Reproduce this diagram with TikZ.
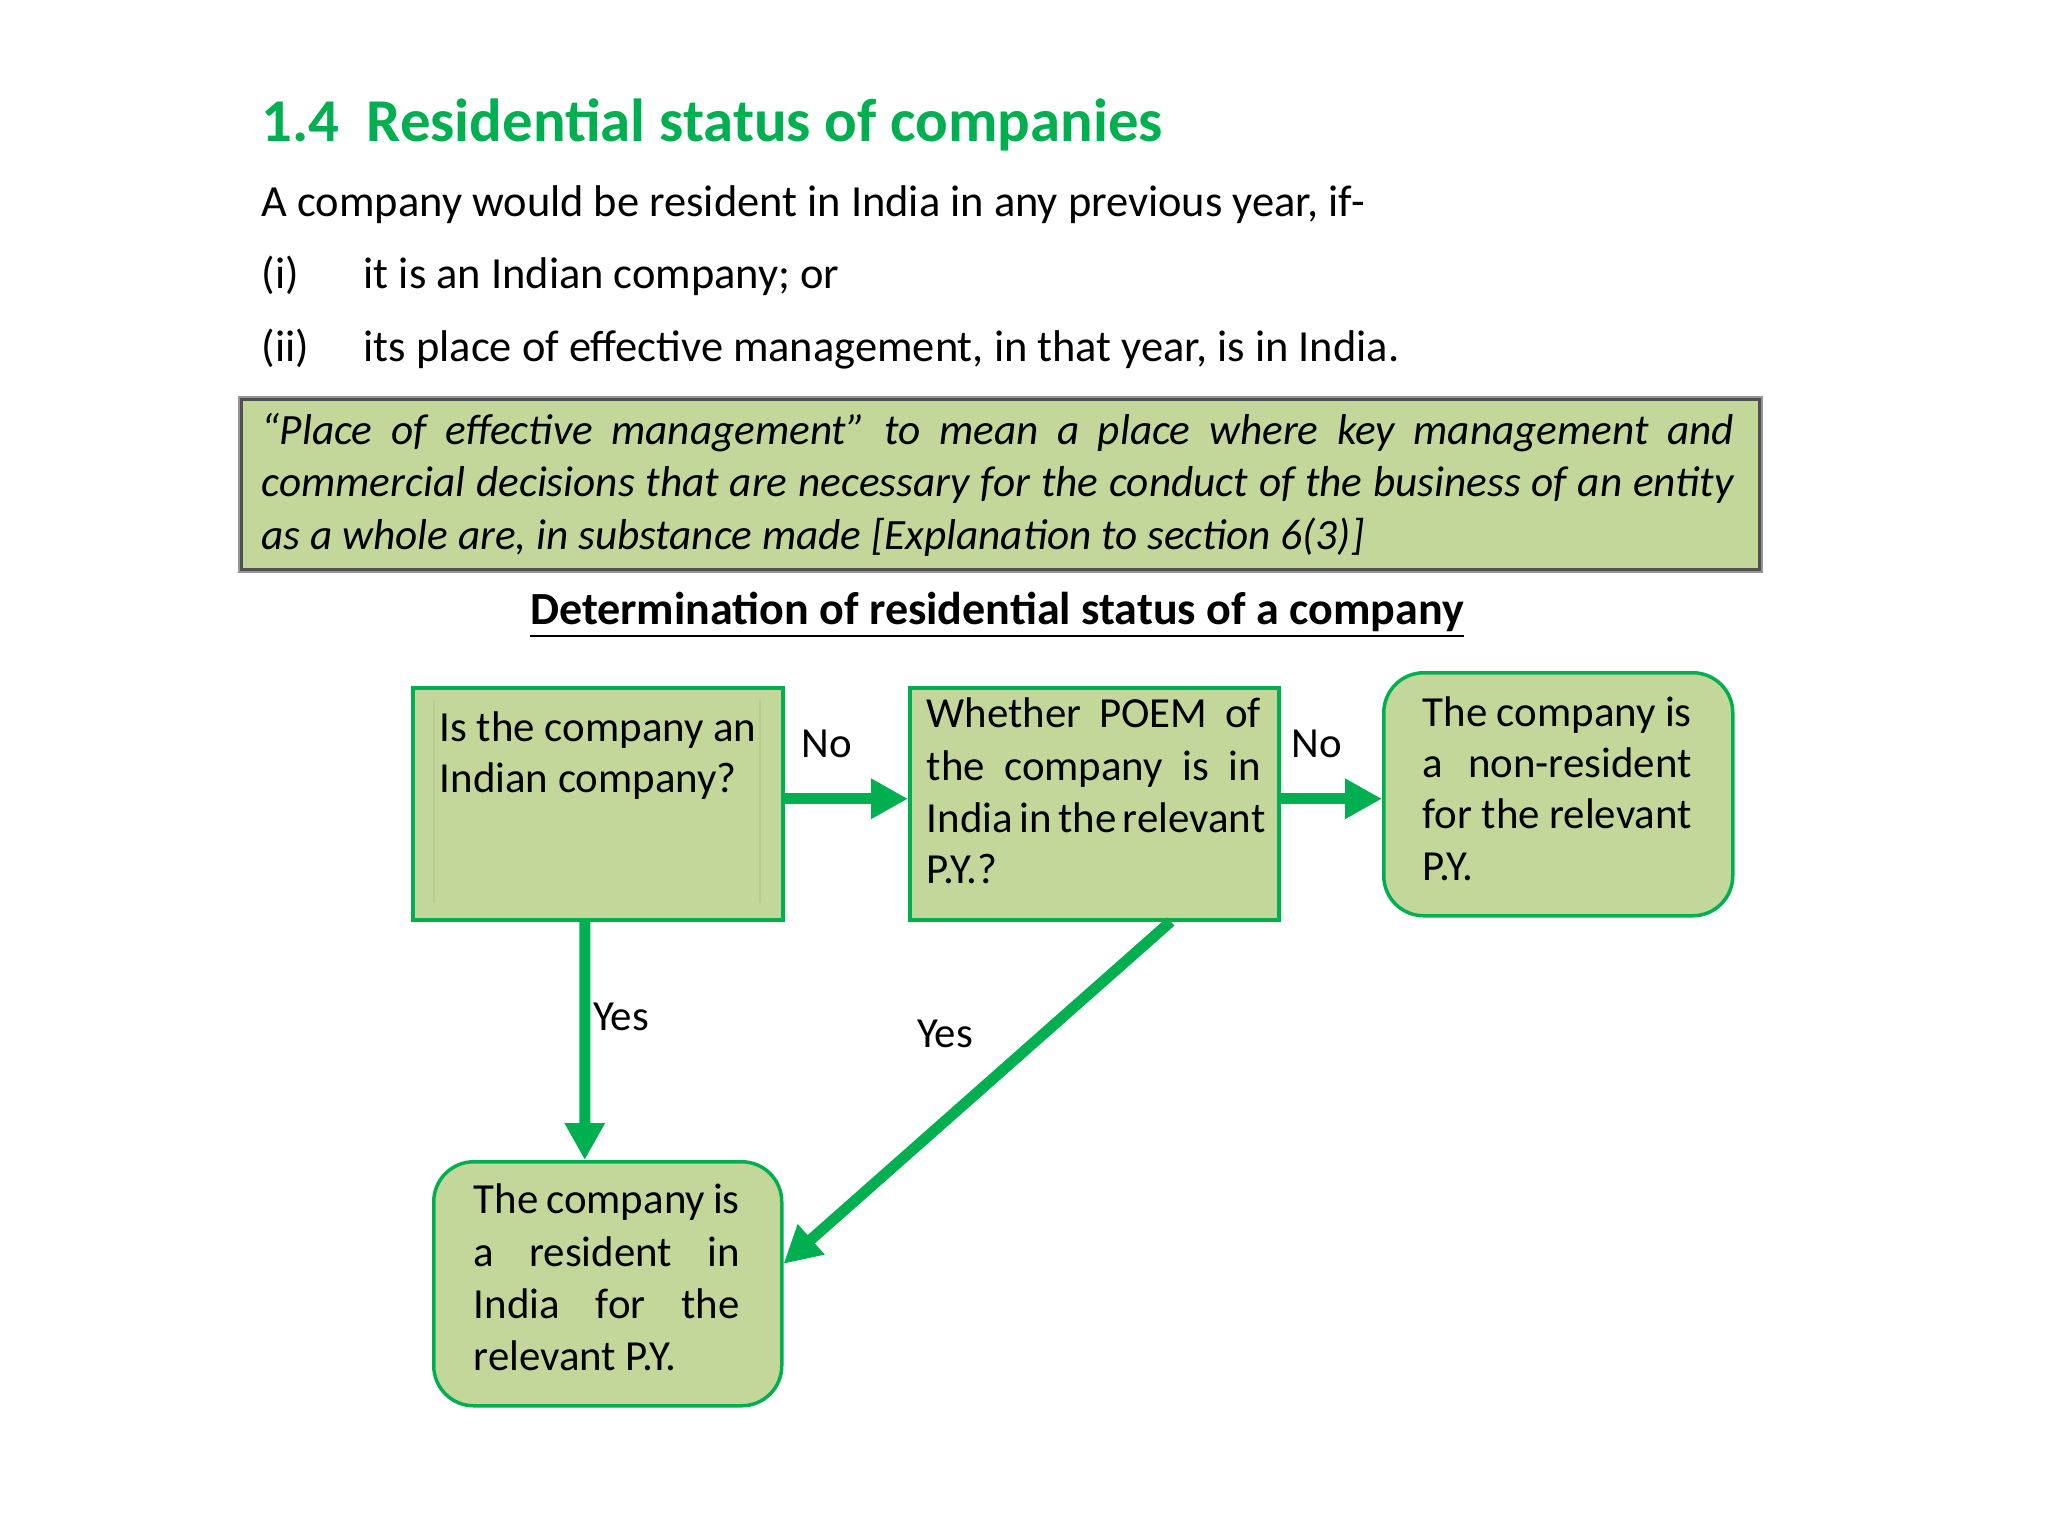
\documentclass[tikz,border=0pt]{standalone}
\usepackage{fontspec}
\setmainfont{Carlito}
\usetikzlibrary{arrows.meta}
\definecolor{titlegreen}{RGB}{0,176,80}
\definecolor{boxfill}{RGB}{196,215,155}
\definecolor{boxgreen}{RGB}{0,176,80}
\definecolor{quoteouter}{RGB}{150,150,150}
\definecolor{quoteinner}{RGB}{80,80,80}
\definecolor{innerframe}{RGB}{184,204,146}
\newcommand\fs{\fontsize{12.2pt}{14.8pt}\selectfont}
\newcommand\fsbody{\fontsize{12.65pt}{15pt}\selectfont}
\newcommand\jl[2]{\hbox to #1{#2}}
\tikzset{
  txt/.style={anchor=base west, inner sep=0pt, font=\fs},
  body/.style={anchor=base west, inner sep=0pt, font=\fsbody},
  lbl/.style={anchor=center, inner sep=0pt, font=\fs},
  sqbox/.style={draw=boxgreen, fill=boxfill, line width=0.35mm, inner sep=0pt, anchor=north west},
  rbox/.style={sqbox, rounded corners=4mm},
  flow/.style={draw=boxgreen, line width=1.1mm, -{Triangle[length=3.7mm,width=3.8mm]}},
}
\begin{document}
\begin{tikzpicture}[x=0.1mm,y=-0.1mm]
\useasboundingbox[fill=white] (0,0) rectangle (2048,1536);

% title and intro
\node[txt, font=\fontsize{17.3pt}{20pt}\selectfont\bfseries, text=titlegreen] (t1) at (261,141) {1.4};
\node[txt, font=\fontsize{17.3pt}{20pt}\selectfont\bfseries, text=titlegreen] (t2) at (366,141) {Residential status of companies};
\node[body] (p1) at (261,216) {A company would be resident in India in any previous year, if-};
\node[body] (p2a) at (261,288) {(i)};
\node[body] (p2b) at (363,288) {it is an Indian company; or};
\node[body] (p3a) at (261,361) {(ii)};
\node[body] (p3b) at (363,361) {its place of effective management, in that year, is in India.};

% quote box
\node[draw=quoteouter, fill=boxfill, line width=0.5mm, inner sep=0pt, anchor=north west,
      minimum width=152mm, minimum height=17.2mm] (q) at (238,396) {};
\draw[quoteinner, line width=0.25mm] ([shift={(0.35mm,-0.35mm)}]q.north west) rectangle ([shift={(-0.35mm,0.35mm)}]q.south east);
\node[txt, font=\fontsize{12.3pt}{14.8pt}\selectfont\itshape] (q1) at (261,444) {\jl{147.2mm}{“Place of effective management” to mean a place where key management and}};
\node[txt, font=\fontsize{12.3pt}{14.8pt}\selectfont\itshape] (q2) at (261,496) {\jl{147.2mm}{commercial decisions that are necessary for the conduct of the business of an entity}};
\node[txt, font=\fontsize{12.3pt}{14.8pt}\selectfont\itshape] (q3) at (261,549) {as a whole are, in substance made [Explanation to section 6(3)]};

% heading
\node[anchor=base, inner sep=0pt, font=\fontsize{13.1pt}{15pt}\selectfont\bfseries] (h) at (997,624) {\underline{Determination of residential status of a company}};

% boxes
\node[sqbox, minimum width=37mm, minimum height=23.2mm] (A) at (411,686) {};
\draw[innerframe, line width=0.12mm] (434,700) -- (434,903) (760,700) -- (760,903);
\node[txt] (a1) at (439,741) {Is the company an};
\node[txt] (a2) at (439,792) {Indian company?};

\node[sqbox, minimum width=36.9mm, minimum height=23.2mm] (B) at (908,686) {};
\node[txt] (b1) at (926,727) {\jl{33.4mm}{Whether POEM of}};
\node[txt] (b2) at (926,780) {\jl{33.4mm}{the company is in}};
\node[txt] (b3) at (926,832) {\jl{33.4mm}{India in the relevant}};
\node[txt] (b4) at (926,883) {P.Y.?};

\node[rbox, minimum width=34.9mm, minimum height=24.3mm] (C) at (1382,671) {};
\node[txt] (c1) at (1422,726) {\jl{26.9mm}{The company is}};
\node[txt] (c2) at (1422,777) {\jl{26.9mm}{a non-resident}};
\node[txt] (c3) at (1422,828) {\jl{26.9mm}{for the relevant}};
\node[txt] (c4) at (1422,880) {P.Y.};

\node[rbox, minimum width=34.8mm, minimum height=24.4mm] (D) at (432,1160) {};
\node[txt] (d1) at (473,1213) {\jl{26.6mm}{The company is}};
\node[txt] (d2) at (473,1266) {\jl{26.6mm}{a resident in}};
\node[txt] (d3) at (473,1318) {\jl{26.6mm}{India for the}};
\node[txt] (d4) at (473,1370) {relevant P.Y.};

% connectors
\draw[flow] ([yshift=0.5mm]A.east) -- ([yshift=0.5mm]A.east -| B.west);
\draw[flow] ([yshift=0.5mm]B.east) -- ([yshift=0.5mm]B.east -| C.west);
\draw[flow] ([xshift=-1.3mm]A.south) -- ([xshift=-2.3mm]D.north);
\draw[flow] ([xshift=7.65mm]B.south) -- ([yshift=2mm]D.east);

% labels
\node[lbl] (n1) at (827,744) {No};
\node[lbl] (n2) at (1317,744) {No};
\node[lbl] (y1) at (621,1017) {Yes};
\node[lbl] (y2) at (945,1034) {Yes};
\end{tikzpicture}
\end{document}
